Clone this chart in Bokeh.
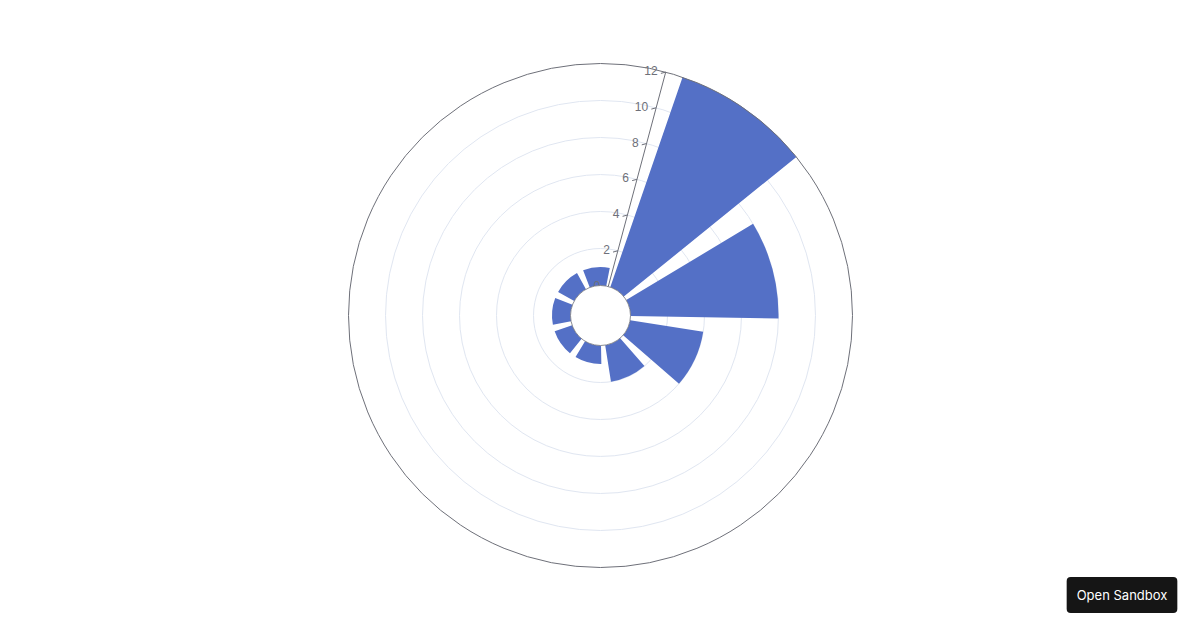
import numpy as np
from bokeh.plotting import figure
from bokeh.models import Range1d, Label
from bokeh.core.properties import value
from bokeh.embed import file_html
from bokeh.resources import INLINE

# polar bar data (9 categories clockwise from the radius axis)
categories = ["c1", "c2", "c3", "c4", "c5", "c6", "c7", "c8", "c9"]
values = [12, 8, 4, 2, 1, 1, 1, 1, 1]
radius_ticks = [0, 2, 4, 6, 8, 10, 12]
tick_labels = ["0", "2", "4", "6", "8", "10", "12"]

start_angle = 75.0      # degrees, where the radius axis sits
r_inner = 30.0          # pixels, value 0
r_outer = 252.0         # pixels, value 12
vmax = 12.0
bar_frac = 0.8          # bar width as fraction of category

W, H = 1184, 614
cx, cy = 8, -8          # chart centre, page is not offset

scale = (r_outer - r_inner) / vmax

def rad(v):
    return r_inner + np.asarray(v, dtype=float) * scale

p = figure(width=W, height=H, output_backend="svg", toolbar_location=None,
           x_axis_type=None, y_axis_type=None, min_border=0)
p.x_range = Range1d(-W / 2, W / 2)
p.y_range = Range1d(-H / 2, H / 2)
p.grid.visible = False
p.outline_line_color = None
p.background_fill_color = "white"

# split circles
grid_r = rad(radius_ticks[1:-1])
p.circle(x=[cx] * len(grid_r), y=[cy] * len(grid_r), radius=grid_r,
         fill_color=None, line_color="#E0E6F1", line_width=1)

# bars
n = len(categories)
step = 360.0 / n
centers = np.array([start_angle - step * i - step / 2 for i in range(n)])
half = step * bar_frac / 2
p.annular_wedge(x=[cx] * n, y=[cy] * n, inner_radius=r_inner,
                outer_radius=rad(values),
                start_angle=np.radians(centers - half),
                end_angle=np.radians(centers + half),
                fill_color="#5470C6", line_color=None)

# outer angle axis line
p.circle(x=[cx], y=[cy], radius=[r_outer], fill_color=None,
         line_color="#6E7079", line_width=1)

# radius axis
a = np.radians(start_angle)
ux, uy = np.cos(a), np.sin(a)
px_, py_ = -np.sin(a), -np.cos(a)   # perpendicular, pointing left
p.line([cx + r_inner * ux, cx + r_outer * ux], [cy + r_inner * uy, cy + r_outer * uy],
       line_color="#6E7079", line_width=1)

tr = rad(radius_ticks)
tx0 = cx + tr * ux
ty0 = cy + tr * uy
p.segment(x0=tx0, y0=ty0, x1=tx0 + 5 * px_, y1=ty0 + 5 * py_,
          line_color="#6E7079", line_width=1)
p.text(x=tx0 - 8, y=ty0 + 1.5, text=tick_labels, text_align="right",
       text_baseline="middle", text_font=value("Liberation Sans"),
       text_font_size="12px", text_color="#6E7079")

# inner hole
p.circle(x=[cx], y=[cy], radius=[r_inner], fill_color="white",
         line_color="#6E7079", line_width=1, line_alpha=0.8)

# sandbox button
btn = Label(x=529.5, y=-287.5, text="Open Sandbox", text_align="center",
            text_baseline="middle", text_color="white",
            text_font="Inter", text_font_size="13px",
            background_fill_color="#151515", padding=(10, 10),
            border_radius=4)
p.add_layout(btn)

open("out.html", "w").write(file_html(p, INLINE))
